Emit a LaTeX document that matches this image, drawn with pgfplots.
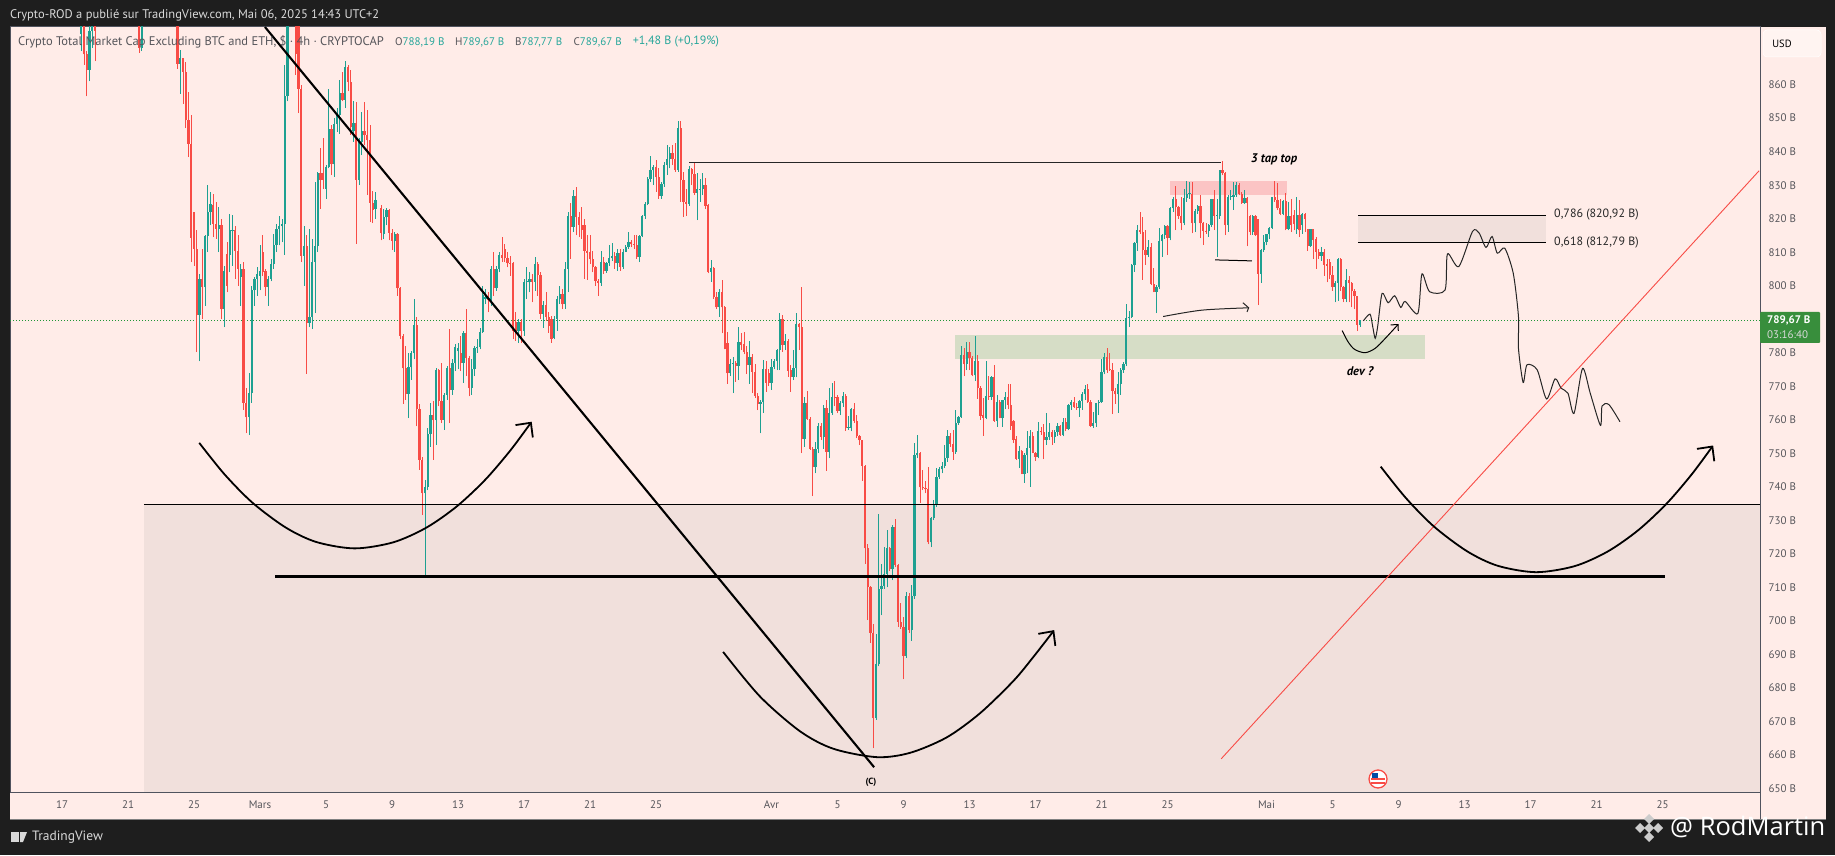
\documentclass[border=0pt]{standalone}
\usepackage{pgfplots}
\usepackage{pgfplotstable}
\usepackage{fontspec}
\setmainfont{PT Sans}
\newfontfamily\wmfont{Open Sans}
\pgfplotsset{compat=1.18}
\definecolor{dark}{RGB}{30,30,30}
\definecolor{pale}{RGB}{255,236,232}
\definecolor{upc}{RGB}{30,160,145}
\definecolor{dnc}{RGB}{248,76,70}
\definecolor{zone}{RGB}{241,224,220}
\definecolor{greenz}{RGB}{214,221,198}
\definecolor{pinkz}{RGB}{251,196,196}
\definecolor{axl}{RGB}{80,83,94}
\definecolor{txt}{RGB}{85,85,90}
\definecolor{tval}{RGB}{38,166,154}
\definecolor{pgreen}{RGB}{56,142,60}
\definecolor{dotg}{RGB}{30,150,55}
\pgfplotstableread{
i o c h l
7 875 882 885 870
8 884 869 888 866
9 869 864.5 870 856.5
10 864.5 876 880 861
11 876 878 882 871
12 878 876 881 867
28 895 871 900 869.5
29 871 890 892 870
42 885 866.3 890 864.8
43 866.3 867.8 870.2 857.3
44 867.8 863.8 867.8 854.3
45 863.8 849.3 866.8 847
46 849.3 842.4 857.8 838.4
47 842.4 814.3 851 807
48 821.9 811 821.9 806
49 811 791.4 816.7 780.2
50 791.4 802.1 803.6 777.4
51 802.1 799.6 811 790
52 799.6 814.7 815 794
53 814.7 822 830 810
54 822 824.3 828 818
55 824 818.5 827.4 814.5
56 818.5 817 825 814
57 817 818 823.5 810
58 818 793 820 790
59 793 804.3 806 787.6
60 809.5 800 813 798
61 809.2 816.5 821.5 804
62 816.5 816.6 821 806
63 816.5 810.3 817.7 802
64 810.3 805 815 800
65 802.5 805 806.5 794
66 805 765 807 763
67 765 760.8 769.4 756
68 760.8 768 774 755.4
69 768 798.6 800 765
70 798.6 802.1 802.6 794
71 802 803.4 805.5 797
72 803 804.5 812 798.6
73 810 804 815 803
74 804.5 799.6 805 797
75 799.6 802 803 794
76 802 806.5 808 801.3
77 806.5 812.2 815.5 805
78 812.2 817 818.5 810
79 817 817.7 820.7 812
80 817.7 818.5 820 813
81 818.5 856.5 866 809.3
82 856.5 882 885 855
85 893 869 895 863
86 878 858.8 880 851.5
87 858.8 809 860 807
88 809 811.7 817.7 800
89 811.7 788.8 815 773.7
90 788.8 790.8 817 787.6
91 790.8 807 814 787
92 807 811.7 831 791.8
93 811.7 833.6 834 810
94 833.6 831.6 841 823
95 833.6 831.6 844 829
96 829 835.4 836 826
97 835.4 846.9 858.8 835
98 846.9 836.2 848 833
99 836.2 848.4 850 832.5
100 848.4 850.8 853 846
101 850.8 857.5 861.3 845.3
102 857.5 855.5 863.8 855
103 855.5 865.3 867.2 853
104 865.3 860.8 865.8 858
105 860.8 847.5 864.3 845
106 846.3 848.5 855 843
107 848.5 831.6 854.8 812.5
108 831.6 843 844 830
109 843 846.3 851.8 839
110 846.3 844.9 854.8 842
111 844.9 843.4 852.3 827
112 843.4 824.8 848.1 819
113 824.8 822.7 828.4 818.7
114 823 825.5 828 820
116 823.1 815.6 824 813.5
117 815.4 820.4 823 813.8
118 820.4 822.6 823.3 818
119 822.6 815.8 823 813.5
120 815.8 813.4 817 810.7
121 813.4 815.4 816 810.2
122 815.4 799.2 815.6 797
123 799.2 785 799.5 784
124 785 775.3 785.5 764.7
125 775.3 767.7 782 766
126 767.7 775.6 780 760.5
127 775.6 779.8 780.5 772
128 779.8 788.3 796 778
129 788.3 763.1 790.8 758
130 763.1 748 764.6 745
131 748 738 749 731.7
132 738 740 742 713.2
133 740 755.6 757.4 739
134 755.6 761.4 765 752
135 761.4 759.9 765.5 748
136 759.9 774.8 775.5 752.5
137 774.8 765.7 775 764
138 765.7 760 777 759
139 760 767.4 768 757
140 767.4 775.3 776 766
141 775.3 768.9 787 759
142 768.9 776.8 778 767.5
143 776.8 781.8 782.5 774.5
144 780.5 781.5 783 775
145 779.8 777 785 774.5
146 777 786 786.6 771
147 786 778.3 793 773
148 778.3 769.4 779 767
149 769.4 775 778 767.5
150 775 781.3 782 773
151 781.3 781.6 784 780
152 781.6 786.3 787.5 781
153 786.3 797.2 800 786
154 796 796.5 799 794.5
155 797 795.7 798 792
156 795.7 805 806 794
157 805 799.2 810 797
158 799.2 805 806 798.5
159 805 809.2 810 804
160 809.2 808.2 814.5 807
161 810.9 808.2 812.5 807
162 808.2 806.7 810 805.5
163 806.7 806.5 809 803
164 806.7 786.6 807 784
165 789.3 786.6 792 783.5
166 786.6 789.3 790 783
167 789.3 786.6 790 783
168 786.6 801 802 785
169 801 801.5 805.5 796
170 801 801.9 804 798
171 801.9 801.2 803.5 795
172 801.2 806.5 808.5 798.5
173 806.5 803.2 807 797
174 803.2 791.6 804 790
175 791.6 794.2 795.5 787.5
176 794.2 790.8 798 789.5
177 790.8 788 792 786
178 790 784.1 791 783
179 784.5 790 791 784
180 790 796 797 786.5
181 796 797.5 800 794.5
182 797.5 794.4 799 793
183 794.4 805 807 793
184 805 820.9 822 798
185 820.9 817.6 824.8 808
186 817.6 826.8 828.5 816
187 826.8 820.4 829.5 815
188 820.4 818.1 822 814.5
189 818.1 816.5 823.5 814
190 818.1 810.5 820 802
191 810.5 809.9 815 801.7
192 810 807.9 815 806.5
193 807.9 805.7 810.5 804
194 805.7 801.5 806 800
195 801.5 800.9 802 797
196 800.9 807 810.3 800
197 807 804.5 808.5 803.5
198 804.5 806.7 807 803.8
199 806.7 808.2 812 806
200 808.2 809 812.7 807.5
201 809 806.7 810 805
202 806.7 809.7 811 804.5
203 809.7 805.7 811 804.5
204 805.7 810.2 811 805
205 810.2 811.6 812 810
206 811.6 813 816 811
207 813 812.4 813.5 811.5
208 812.4 812.1 815 811
209 812.1 808.7 815 808
210 808.7 814.9 815 807
211 814.9 820.9 821 814.5
212 820.9 824.4 825 820
213 824.4 831.7 832.5 824
214 831.7 834.5 838.8 831
215 834.5 835.3 836 830
216 835.3 832.5 837.5 828
217 832.5 826.8 835 826
218 826.8 830.4 831 826
219 830.4 836 837 829.5
220 836 837.7 842 833
221 837.7 839.5 841.5 835
222 839.5 837.7 842 836
223 837.7 834.5 842.5 834
224 834.5 847 849 834
225 847 831.5 849 825
226 831.5 825.1 834 820.5
227 825.1 824.4 829 820.8
228 824.4 834.7 835.7 823.8
229 834.7 833.3 835 830
230 833.3 827.8 836.5 827
231 827.8 828.8 833.5 819.6
232 828.8 829 831.8 825
233 829 830 833.7 827
234 830 823.8 832 823
235 824 804.2 824.5 803.7
236 804.2 805.2 807.7 801.2
237 805.2 796.7 805.5 796
238 796.7 793.5 798 793
239 793.5 798 798.9 790.7
240 798 793.5 801.7 785.8
241 793.5 781 794 781
242 782.8 773.8 786.3 770.8
243 773.8 776.6 778 773
244 776.6 776.8 778.8 767.9
245 777 776.1 777.5 771.3
246 776.1 783.3 787.8 771.8
247 783.3 782.3 785.8 780.8
248 782.5 780.3 786.3 779.5
249 780.3 776.3 782 773.6
250 776.3 778.8 783.6 770.8
251 778.8 774.3 779.5 767.9
252 774.3 767.1 776.6 766.5
253 767.1 764.7 768 762.9
254 764.7 765.4 766 755.9
255 765.4 775 777.8 762.1
256 775 771 777.6 768.4
257 773.8 771 775 770
258 771 775.8 778 768.9
259 775.8 777.5 778 775
260 777.5 780.8 781 774.8
261 780.8 790 791.7 774.8
262 790 782.3 791.2 780.3
263 782.3 783.5 785.6 780.8
264 783.5 774.6 784 772.8
265 774.8 772.8 776.3 768.4
266 772.8 775.3 780.8 771.8
267 775.3 788.5 791.7 772.6
268 788.5 787.6 789 780.8
269 787.6 754.1 799.7 750
270 754.1 764.9 766.9 752
271 764.9 760.1 768.7 760
272 760.1 751.4 760.7 751
273 751.4 745.8 752 737.2
274 745.8 751.4 753.4 744
275 751.4 758.1 759 750
276 758.1 754.9 758.9 754
277 754.9 763.4 764.4 751.4
278 763.4 750.4 765.9 744.8
279 750.4 762.1 769.5 748.5
280 762.1 766.9 771 761.5
281 766.9 766.7 771.6 764
282 766.7 762.7 767.5 762
283 762.7 764.9 765.5 761.4
284 764.9 767.1 768.4 763.9
285 767.1 757.6 767.6 756.7
286 757.6 757.9 761 757
287 757.6 763.1 763.6 756.5
288 763.1 759.7 764.9 759
289 759.7 755.2 761.4 754.5
290 755.2 753.9 755.5 752.4
291 753.9 746.3 754 741.8
292 746.3 721.6 746.5 717
293 721.6 710.1 722.9 700.2
294 710.1 696.5 710.5 693.4
295 696.5 671.1 698.9 661.9
296 671.1 687 696 670.5
297 687 709.6 732 686.4
298 709.6 710.5 717 701.6
299 710.5 714.1 721.9 709.5
300 714.1 721.6 727 710
301 721.6 715.4 722 714.9
302 715.4 728 728.5 712.1
303 728 716.6 730.5 716
304 716.6 699.7 717 698.2
305 699.7 698.2 705.2 697.5
306 698.2 689.5 701.2 682.5
307 689.5 707.3 708.7 689
308 707.3 697.2 708.4 696.5
309 697.2 707.3 710.6 694
310 707.3 749.4 753.1 706.5
311 749.4 750.2 755.4 748.5
312 750.2 739.8 750.5 735.2
313 739.8 739.6 745 739
314 739.6 739.2 741.8 738
315 739.2 723.4 745.8 722.8
316 723.4 730.8 731 722
317 730.8 734.8 736 730
318 734.8 743 745.5 734
319 743 745.2 746 742.3
320 745.2 746.3 747.5 744
321 746.3 748.7 752.4 745.5
322 748.7 755.1 757 747.5
323 755.1 752.9 756 752
324 752.9 750.4 757 748
325 750.4 759.1 763 749.8
326 759.1 760.9 761 758.5
327 760.9 779.3 782 760.5
328 779.3 776.6 781.3 773
329 776.6 780.1 783.1 774.8
330 780.1 778.3 783.1 774.8
331 778.3 773.2 779 772.9
332 773.2 777.5 785.1 771.6
333 777.5 769.6 779.3 766.2
334 769.6 761.2 770 760
335 761.4 760.6 766.4 755.2
336 760.6 767.1 777.5 760.1
337 767.1 766.7 772.9 766
338 766.9 772.8 773 766
339 772.8 759.7 776.3 759.4
340 759.7 765.4 767.4 757.9
341 765.4 760.4 766 760.4
342 760.4 765.9 766 757.9
343 765.9 766.9 768.4 763.1
344 766.9 764.4 770.6 763.1
345 764.4 758.1 770.6 757
346 759.6 754 760 753
347 754.2 748.3 755 748
348 748.3 750.7 752.2 745.7
349 750.7 743.8 751 743.8
350 743.8 749.5 750 741.2
351 749.5 751.7 756.7 744
352 751.7 755.2 756.9 740
353 755.2 750.2 756.4 750
354 750.2 749 750.5 747.8
355 749 756.6 759.4 748.5
356 756.6 756.2 757.9 755.5
357 756.2 754 758.7 748.2
358 754 754.8 761.9 752.5
359 754.8 756.2 758.9 754
360 756.2 754.9 757 752.5
361 754.9 756.4 757 753
362 756.4 758.1 758.9 755
363 758.1 755.5 758.5 755.2
364 755.5 759.2 760.4 755
365 759.2 757.1 760.4 756.5
366 757.1 764.4 764.7 756.8
367 764.4 765.4 765.9 763
368 765.4 763.7 766.9 763.5
369 763.7 763.6 765 763
370 763.6 765.6 766 760.9
371 765.6 767.6 768.4 763
372 767.6 769.1 770.4 766
373 769.1 765.4 770.6 765
374 765.4 758.2 766 757.9
375 758.2 758.9 762.4 757.5
376 758.9 764.9 765 757.9
377 764.9 765.2 766 761.4
378 765.2 774.2 778.1 765
379 774.2 778.6 779.8 773.5
380 778.6 774.9 781.3 774
381 775 774.9 779.8 774.5
382 774.9 768.7 777 761.7
383 768.7 767.6 769.5 764.7
384 767.6 770.7 774.2 762.1
385 770.7 774.9 775.5 767.4
386 774.9 776.6 777.1 774
387 776.6 790.3 794.6 776
388 790.3 790.8 792.5 787.8
389 790.8 806.2 806.5 790.3
390 806.2 812.7 813 804.2
391 812.7 816.6 818.1 810.5
392 816.6 816 821.9 815.5
393 816 810.7 820.4 801.7
394 810.7 809.2 816.6 806.2
395 809.2 811.5 813.7 808.5
396 811.5 800.5 812.7 800.2
397 800.5 798.2 805.2 798
398 798.2 799.5 800.2 791.8
399 799.5 813.2 817.1 799
400 813.2 815.2 815.5 808.7
401 815.2 817.8 818.1 814
402 817.8 814.2 818 809.2
403 814.2 823.1 823.6 813.5
404 823.1 825.8 826.4 822
405 825.8 823.6 829.6 816.6
406 823.6 820.8 823.8 820
407 820.8 818.6 826.5 816.6
408 818.6 826.1 829 818
409 826.1 827.4 831.3 825
410 827.4 827.8 831 826
411 827.4 818.6 831 815.6
412 818.6 822.4 823 816
413 822.4 823.8 824 821.5
414 823.8 818.6 827.1 814.1
415 818.6 816.4 819 812.2
416 816.4 816.3 818.6 815.5
417 816.4 818.1 818.5 814.6
418 818.1 825.8 826 817.5
419 825.8 820.8 828.6 816.6
420 820.8 821 826 808.7
421 820.8 834.5 834.6 820
422 834.5 833.5 837.2 833
423 833.5 818.1 834 815.1
424 818.1 826.6 827 816.1
425 826.6 826.8 828.6 825.5
426 826.6 827 831 822.6
427 827 830 831 826.5
428 830 827.4 830.6 827
429 827.4 824.8 828.1 824.5
430 824.8 826.1 828.6 824.5
431 826.1 824.8 826.5 811.7
432 820.8 816.1 821.1 815
433 816.1 820.8 821 815.2
434 820.8 815.2 821.1 814.8
435 819.8 803.5 820 794.2
436 803.5 810.7 811 800.9
437 810.7 812.9 815.1 810
438 812.9 815.3 815.5 812
439 815.3 817.3 817.6 814
440 817.3 826.4 826.4 817
441 826.4 825.6 831.3 825
442 825.6 823.1 830.6 822.5
443 823.1 821.4 826 821
444 821.4 825.3 825.6 821
445 825.3 816.8 827.6 816.5
446 816.8 820.8 825.1 816.5
447 820.8 818.1 826 816
448 821 818.5 822.5 816.5
449 816.8 821 826.6 815.5
450 821 816.5 825.5 814.5
451 818 821.4 821.6 815.5
452 821.4 819.9 821.8 816
453 816.8 811.8 817 810.5
454 811.8 816.8 817 811.5
455 816.8 813.6 817 808
456 814 810.2 814.5 805
457 810.2 808.9 811 808
458 808.9 810.2 811.5 807.5
459 810.2 806.2 811 803
460 806.5 806 808 801
461 807.2 803.2 808 802
462 803.2 799.7 806 798.5
463 799.7 800.9 801.5 795
464 800.9 808 808.2 795.5
465 808 799.5 808.2 798.5
466 799.5 796 800 795
467 796 801.7 805 795
468 801.7 800.7 803 795
469 800.7 798.5 801 793.5
470 798.5 796.9 799 793
471 796.9 788.2 797 786.5
472 788.2 789.67 789.8 787.8
}\candles
\begin{document}
\begin{tikzpicture}[x=1pt,y=1pt]
\useasboundingbox (0,0) rectangle (1835,855);
\fill[dark] (0,0) rectangle (1835,855);
\fill[pale] (10,36) rectangle (1826,828);
\draw[gray,line width=1pt] (10,36) -- (1826,36);
\draw[axl,line width=1pt] (1760,36) -- (1760,63);
\begin{axis}[
  at={(10pt,63pt)}, anchor=south west,
  scale only axis, width=1750pt, height=765pt,
  xmin=-18.91, xmax=617.45, ymin=648.9, ymax=877.2,
  axis background/.style={fill=pale},
  axis line style={axl,line width=1pt},
  ytick pos=right, yticklabel pos=right,
  xtick pos=bottom,
  tick style={draw=none},
  major tick length=0pt,
  xtick={0,24,48,72,96,120,144,168,192,216,258,282,306,330,354,378,402,438,462,486,510,534,558,582},
  xticklabels={17,21,25,Mars,5,9,13,17,21,25,Avr,5,9,13,17,21,25,Mai,5,9,13,17,21,25},
  xticklabel style={font=\fontsize{11}{12}\selectfont,text=txt,anchor=center,yshift=-13pt},
  ytick={650,660,670,680,690,700,710,720,730,740,750,760,770,780,800,810,820,830,840,850,860},
  yticklabels={650 B,660 B,670 B,680 B,690 B,700 B,710 B,720 B,730 B,740 B,750 B,760 B,770 B,780 B,800 B,810 B,820 B,830 B,840 B,850 B,860 B},
  yticklabel style={font=\fontsize{11}{12}\selectfont,text=txt,anchor=west,xshift=5pt},
  clip=true,
]
% zones
\addplot[draw=none,fill=zone,forget plot] coordinates {(29.8,734.8)(617.45,734.8)(617.45,648.9)(29.8,648.9)} --cycle;
\addplot[draw=none,fill=zone,forget plot] coordinates {(471.3,820.92)(539.6,820.92)(539.6,812.79)(471.3,812.79)} --cycle;
\addplot[draw=none,fill=greenz,forget plot] coordinates {(324.7,785.3)(495.6,785.3)(495.6,778.1)(324.7,778.1)} --cycle;
\addplot[draw=none,fill=pinkz,forget plot] coordinates {(402.9,831.3)(445.5,831.3)(445.5,827.1)(402.9,827.1)} --cycle;
% last price
\addplot[dotg,line width=0.8pt,dash pattern=on 1pt off 2pt,forget plot] coordinates {(-18.91,789.67)(617.45,789.67)};
% wicks
\addplot[draw=none,mark=none,forget plot,x filter/.expression={\thisrow{c}>=\thisrow{o} ? x : nan},
  error bars/.cd,y dir=plus,y explicit,error mark=none,error bar style={line width=0.75pt,color=upc}]
  table[x=i,y=l,y error expr=\thisrow{h}-\thisrow{l}] {\candles};
\addplot[draw=none,mark=none,forget plot,x filter/.expression={\thisrow{c}>=\thisrow{o} ? nan : x},
  error bars/.cd,y dir=plus,y explicit,error mark=none,error bar style={line width=0.75pt,color=dnc}]
  table[x=i,y=l,y error expr=\thisrow{h}-\thisrow{l}] {\candles};
% bodies
\addplot[draw=none,mark=none,forget plot,x filter/.expression={\thisrow{c}>=\thisrow{o} ? nan : x},
  error bars/.cd,y dir=plus,y explicit,error mark=none,error bar style={line width=2.3pt,color=dnc}]
  table[x=i,y=c,y error expr=\thisrow{o}-\thisrow{c}] {\candles};
\addplot[draw=none,mark=none,forget plot,x filter/.expression={\thisrow{c}>=\thisrow{o} ? x : nan},
  error bars/.cd,y dir=plus,y explicit,error mark=none,error bar style={line width=2.3pt,color=upc}]
  table[x=i,y=o,y error expr=\thisrow{c}-\thisrow{o}] {\candles};
% levels
\addplot[black,line width=1.1pt,forget plot] coordinates {(29.8,734.8)(617.45,734.8)};
\addplot[black,line width=3.5pt,forget plot] coordinates {(77.6,713.2)(582.9,713.2)};
\addplot[black!85,line width=1.1pt,forget plot] coordinates {(228,836.8)(421.5,836.8)};
\addplot[black,line width=1.1pt,forget plot] coordinates {(471.3,820.92)(539.6,820.92)};
\addplot[black,line width=1.1pt,forget plot] coordinates {(471.3,812.79)(539.6,812.79)};
\addplot[black,line width=1pt,forget plot] coordinates {(419.3,807.7)(432.7,807.4)};
% trend lines
\addplot[black,line width=2.1pt,forget plot] coordinates {(73.8,877.2)(295.3,656.3)};
\addplot[dnc,line width=0.9pt,forget plot] coordinates {(421.5,658.8)(617.1,834.3)};
% small arrow
\addplot[black!85,line width=1pt,smooth,forget plot] coordinates {(400.4,790.8)(414.5,792.7)(431.5,793.4)};
\addplot[black!85,line width=1pt,forget plot] coordinates {(429.4,794.9)(431.5,793.4)(430.9,792.2)};
% rounding curves
\addplot[black,line width=1.8pt,smooth,forget plot] coordinates {(49.9,753.1)(59.1,743.7)(69.3,735.2)(81.4,727.8)(92.5,723.5)(106.4,721.6)(120.4,723.4)(132.4,727.75)(143.5,734.1)(153.8,742)(163,750.8)(170.5,759.1)};
\addplot[black,line width=1.8pt,forget plot] coordinates {(164.9,758.4)(170.5,759.1)(171.2,754.7)};
\addplot[black,line width=1.8pt,smooth,forget plot] coordinates {(240.4,690.7)(253.8,677.4)(268.4,667)(280.5,661.8)(296.3,659.3)(308.4,660.6)(321.7,665.2)(333.8,672.4)(345.9,682)(353.2,689.2)(360.5,696.9)};
\addplot[black,line width=1.8pt,forget plot] coordinates {(355,696.1)(360.5,696.9)(361.2,692.5)};
\addplot[black,line width=1.8pt,smooth,forget plot] coordinates {(479.5,746)(488.7,736.6)(498.9,728.1)(511,720.7)(522.1,716.4)(536,714.5)(550,716.3)(562,720.65)(573.1,727)(583.4,734.9)(592.6,743.7)(600.1,752)};
\addplot[black,line width=1.8pt,forget plot] coordinates {(594.5,751.3)(600.1,752)(600.8,747.6)};
\addplot[black,line width=1pt,smooth,forget plot] coordinates {(465.5,786.6)(467.6,783.3)(470,781)(473.8,780)(477.5,781.3)(481.2,784.3)(485.8,788.4)};
\addplot[black,line width=1pt,forget plot] coordinates {(483.1,788.3)(485.8,788.4)(485.9,786.5)};
% forecast path
\addplot[black!85,line width=1pt,smooth,tension=0.45,forget plot] coordinates {(473.2,789.5)(475.6,791.5)(476.6,787.8)(477.5,784.3)(478.4,787.8)(480,797.7)(482.2,794.9)(484.6,797)(486.8,793.5)(488.4,795.3)(493,791.7)(494.5,803.5)(497.3,798.2)(502.9,798.7)(503.8,809.5)(507.9,805.7)(512.9,816.2)(515.3,815.7)(517.8,811.4)(520,814.7)(521.9,809.7)(524.6,811.2)(527.7,803.7)(529.6,790.8)(529.6,781.3)(531.3,771.1)(532.7,776.4)(536.4,774.9)(539.8,766.2)(542.9,772.2)(545.1,769.4)(547.6,767.9)(549.8,761.9)(552.9,775.3)(555.7,767.9)(559.4,758.3)(560,764.1)(562.5,764.5)(566.5,759.4)};
\end{axis}
% header and texts
\node[anchor=west,text=white!85!black,font=\fontsize{12.5}{14}\selectfont,inner sep=0] at (10,840) {Crypto-ROD a publié sur TradingView.com, Mai 06, 2025 14:43 UTC+2};
\node[anchor=west,text=txt,font=\fontsize{12.5}{14}\selectfont,inner sep=0] at (18,813) {Crypto Total Market Cap Excluding BTC and ETH, \$ · 4h · CRYPTOCAP};
\node[anchor=west,font=\fontsize{11}{13}\selectfont,inner sep=0] at (395,813) {\textcolor{txt}{O}\textcolor{tval}{788,19 B}};
\node[anchor=west,font=\fontsize{11}{13}\selectfont,inner sep=0] at (455,813) {\textcolor{txt}{H}\textcolor{tval}{789,67 B}};
\node[anchor=west,font=\fontsize{11}{13}\selectfont,inner sep=0] at (515,813) {\textcolor{txt}{B}\textcolor{tval}{787,77 B}};
\node[anchor=west,font=\fontsize{11}{13}\selectfont,inner sep=0] at (573.5,813) {\textcolor{txt}{C}\textcolor{tval}{789,67 B}};
\node[anchor=west,text=tval,font=\fontsize{12}{13}\selectfont,inner sep=0] at (632.6,813) {+1,48 B (+0,19\%)};
\node[font=\fontsize{12.5}{14}\selectfont\itshape\bfseries,inner sep=0] at (1274,696) {3 tap top};
\node[font=\fontsize{12.5}{14}\selectfont\itshape\bfseries,inner sep=0] at (1360,484) {dev ?};
\node[font=\fontsize{9}{11}\selectfont\bfseries,inner sep=0] at (871,73) {(C)};
\node[anchor=west,text=black!85,font=\fontsize{12}{14}\selectfont,inner sep=0] at (1554,640) {0,786 (820,92 B)};
\node[anchor=west,text=black!85,font=\fontsize{12}{14}\selectfont,inner sep=0] at (1554,612) {0,618 (812,79 B)};
% price tag
\fill[pgreen,rounded corners=1pt] (1760,512) rectangle (1820,543);
\node[anchor=west,text=white,font=\fontsize{11}{13}\selectfont\bfseries,inner sep=0] at (1767,535) {789,67 B};
\node[anchor=west,text=white!85!black,font=\fontsize{11}{13}\selectfont,inner sep=0] at (1767,520) {03:16:40};
% USD
\filldraw[draw=white,fill=pale!60!white,rounded corners=4pt,line width=0.5pt] (1763,798) rectangle (1821,825);
\node[text=black,font=\fontsize{10.5}{12}\selectfont,inner sep=0] at (1782,811) {USD};
% news icon
\draw[dnc,line width=1.3pt,fill=white] (1378,76) circle (9);
\fill[dnc] (1371,71.5) rectangle (1385,73.5);
\fill[dnc] (1371,75.5) rectangle (1385,77);
\fill[blue!50!black!70!cyan] (1372,77) rectangle (1378,82);
% footer
\fill[white!85!black] (11,13) rectangle (19,23);
\fill[white!85!black] (20,23) -- (27,23) -- (23,13) -- (20,13) -- cycle;
\node[anchor=west,text=white!85!black,font=\fontsize{13.5}{15}\selectfont,inner sep=0] at (32,18) {TradingView};
% watermark
\foreach \a/\b in {1649/36,1649/18,1640/27,1658/27,1649/27}{
  \fill[white!80!black] (\a,\b+5) -- (\a+5,\b) -- (\a,\b-5) -- (\a-5,\b) -- cycle;
}
\node[anchor=west,text=white,font=\wmfont\fontsize{25.5}{28}\selectfont,inner sep=0] at (1670,28) {@ RodMartin};
\end{tikzpicture}
\end{document}
